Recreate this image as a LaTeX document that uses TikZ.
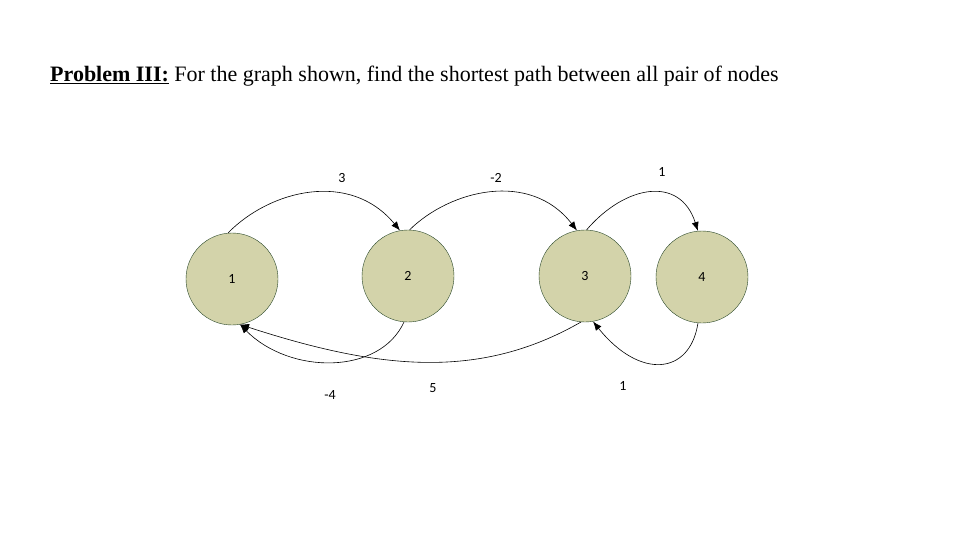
\documentclass[tikz,border=0pt]{standalone}
\usepackage{fontspec}
\setmainfont{Liberation Serif}
\newfontfamily\lab{Carlito}
\usetikzlibrary{arrows.meta}
\definecolor{nodefill}{RGB}{211,211,170}
\definecolor{nodeedge}{RGB}{40,70,40}
\begin{document}
\begin{tikzpicture}[x=1pt,y=-1pt,
  vert/.style={circle,draw=nodeedge,fill=nodefill,minimum size=92pt,inner sep=0pt,font=\lab\fontsize{14}{16}\selectfont},
  edge/.style={draw=black,line width=0.6pt,-{Latex[length=9pt,width=7pt]}},
  wlabel/.style={font=\lab\fontsize{14}{16}\selectfont,text=black}]
\useasboundingbox (0,0) rectangle (955,552);
\node[anchor=base west,inner sep=0pt,font=\fontsize{22}{26}\selectfont] (title) at (50,81) {\underline{\textbf{Problem III:}} For the graph shown, find the shortest path between all pair of nodes};
\node[vert] (n1) at (232,279) {1};
\node[vert] (n2) at (408,276) {2};
\node[vert] (n3) at (585,276) {3};
\node[vert] (n4) at (702,277) {4};
\draw[edge] (n1.95) .. controls (270,190) and (350,170) .. (n2.100);
\draw[edge] (n2.88) .. controls (450,190) and (530,170) .. (n3.100);
\draw[edge] (n3.88) .. controls (625,185) and (680,175) .. (n4.95);
\draw[edge] (n2.265) .. controls (380,375) and (290,375) .. (n1.280);
\draw[edge] (n3.265) .. controls (480,380) and (380,370) .. (n1.280);
\draw[edge] (n4.265) .. controls (690,375) and (640,380) .. (n3.280);
\node[wlabel] (w12) at (342,178) {3};
\node[wlabel] (w23) at (496,178) {-2};
\node[wlabel] (w34) at (662,172) {1};
\node[wlabel] (w21) at (330,395) {-4};
\node[wlabel] (w31) at (433,388) {5};
\node[wlabel] (w43) at (623,386) {1};
\end{tikzpicture}
\end{document}
